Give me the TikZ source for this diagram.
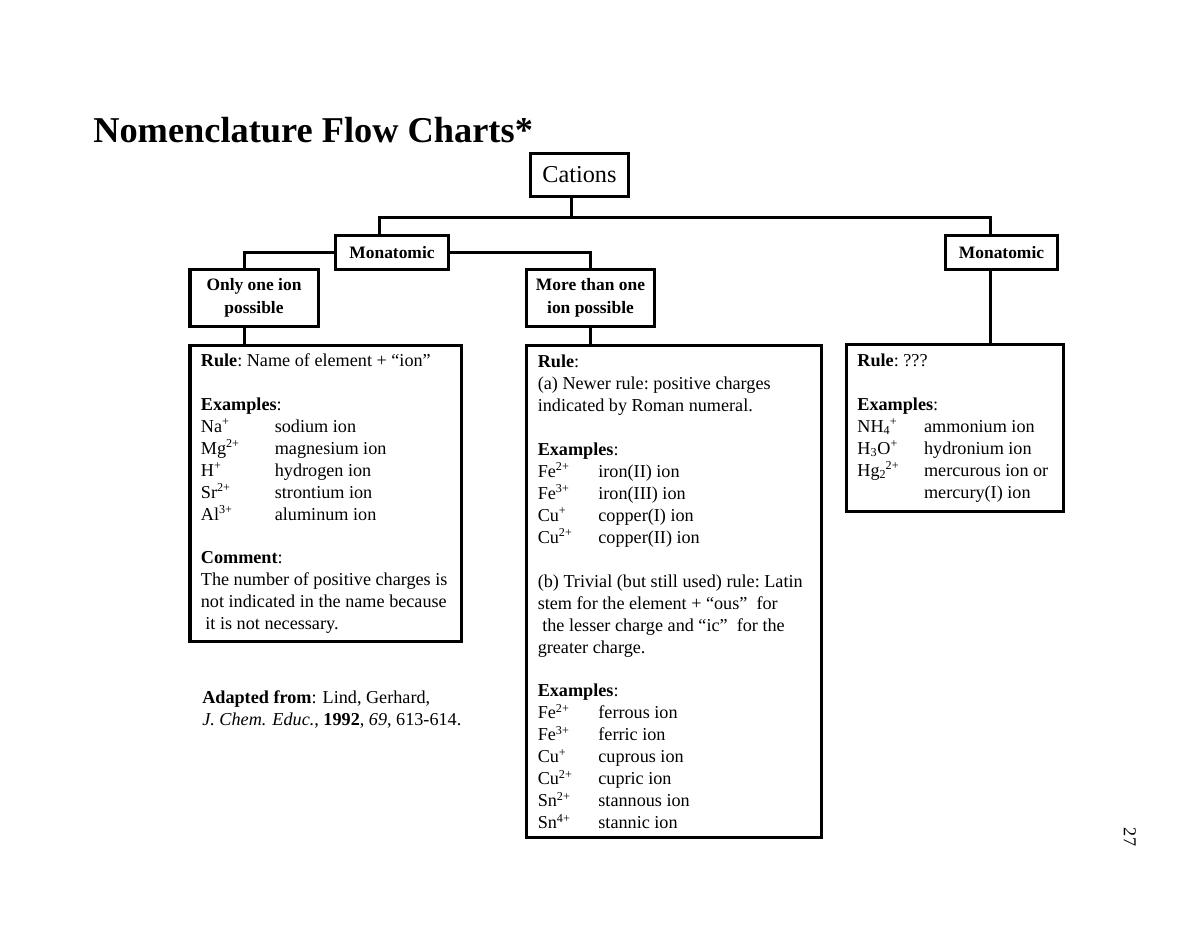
\documentclass[tikz,border=0pt]{standalone}
\usepackage{fontspec}
\setmainfont{Liberation Serif}
\usetikzlibrary{positioning}
\newcommand{\ionrow}[3]{\makebox[#1][l]{#2}#3}

\begin{document}
\begin{tikzpicture}[
    x=0.66pt, y=-0.66pt,
    node distance=10.6pt,
    tagbox/.style={rectangle, draw, line width=2pt, align=center, inner sep=0pt, minimum height=22pt, font=\fontsize{11.5}{15}\selectfont\bfseries},
    rulebox/.style={rectangle, draw, line width=2pt, align=left, inner xsep=7.2pt, inner ysep=4pt, font=\fontsize{12}{14.5}\selectfont,
        execute at begin node={\frenchspacing\hyphenpenalty=10000\spaceskip=0.25em plus 0.1em minus 0.12em}},
    link/.style={draw, line width=2pt}
]
\useasboundingbox (0,0) rectangle (1200,927);

% Title
\node[anchor=base west, inner sep=0pt, font=\fontsize{24}{28}\selectfont\bfseries] (title) at (93,142) {Nomenclature Flow Charts*};

% Tree
\node[rectangle, draw, line width=2pt, minimum width=65pt, minimum height=29pt, inner sep=0pt, font=\fontsize{16}{19}\selectfont] (cat) at (579.5,175) {Cations};
\node[tagbox, minimum width=74pt] (monoL) at (392,252.5) {Monatomic};
\node[tagbox, minimum width=74.5pt] (monoR) at (1001.5,252.5) {Monatomic};
\node[tagbox, minimum width=84.5pt, minimum height=38pt] (only) at (254,298) {Only one ion\\possible};
\node[tagbox, minimum width=84pt, minimum height=38pt] (more) at (590.5,298) {More than one\\ion possible};

% Rule boxes
\node[rulebox, text width=165pt, minimum height=195pt, below right=10.6pt and 0pt of only.south west] (ruleL) {%
\textbf{Rule}: Name of element + “ion”\\[14.5pt]
\textbf{Examples}:\\
\ionrow{48.8pt}{Na\textsuperscript{+}}{sodium ion}\\
\ionrow{48.8pt}{Mg\textsuperscript{2+}}{magnesium ion}\\
\ionrow{48.8pt}{H\textsuperscript{+}}{hydrogen ion}\\
\ionrow{48.8pt}{Sr\textsuperscript{2+}}{strontium ion}\\
\ionrow{48.8pt}{Al\textsuperscript{3+}}{aluminum ion}\\[14.5pt]
\textbf{Comment}:\\
The number of positive charges is\\
not indicated in the name because\\
\hspace*{3pt}it is not necessary.};

\node[rulebox, text width=180pt, minimum height=324.7pt, below right=10.6pt and 0pt of more.south west] (ruleM) {%
\textbf{Rule}:\\
(a) Newer rule: positive charges\\
indicated by Roman numeral.\\[14.5pt]
\textbf{Examples}:\\
\ionrow{40pt}{Fe\textsuperscript{2+}}{iron(II) ion}\\
\ionrow{40pt}{Fe\textsuperscript{3+}}{iron(III) ion}\\
\ionrow{40pt}{Cu\textsuperscript{+}}{copper(I) ion}\\
\ionrow{40pt}{Cu\textsuperscript{2+}}{copper(II) ion}\\[14.5pt]
(b) Trivial (but still used) rule: Latin\\
stem for the element + “ous”\ \ for\\
\hspace*{3pt}the lesser charge and “ic”\ \ for the\\
greater charge.\\[14.5pt]
\textbf{Examples}:\\
\ionrow{40pt}{Fe\textsuperscript{2+}}{ferrous ion}\\
\ionrow{40pt}{Fe\textsuperscript{3+}}{ferric ion}\\
\ionrow{40pt}{Cu\textsuperscript{+}}{cuprous ion}\\
\ionrow{40pt}{Cu\textsuperscript{2+}}{cupric ion}\\
\ionrow{40pt}{Sn\textsuperscript{2+}}{stannous ion}\\
\ionrow{40pt}{Sn\textsuperscript{4+}}{stannic ion}};

\node[rulebox, text width=129pt, minimum height=110pt, anchor=north west] (ruleR) at (845,343) {%
\textbf{Rule}: ???\\[14.5pt]
\textbf{Examples}:\\
\ionrow{44pt}{NH\textsubscript{4}\kern-0.5pt\textsuperscript{+}}{ammonium ion}\\
\ionrow{44pt}{H\textsubscript{3}O\textsuperscript{+}}{hydronium ion}\\
\ionrow{44pt}{Hg\textsubscript{2}\kern-0.5pt\textsuperscript{2+}}{mercurous ion or}\\
\ionrow{44pt}{}{mercury(I) ion}};

% Source
\node[anchor=north west, inner sep=0pt, align=left, font=\fontsize{12}{14.5}\selectfont] (src) at (202,690) {%
\textbf{Adapted from}: Lind, Gerhard,\\
\textit{J. Chem. Educ.}, \textbf{1992}, \textit{69}, 613-614.};

% Page number
\node[rotate=-90, font=\fontsize{12}{14.5}\selectfont] (page) at (1130,837) {27};

% Connectors
\draw[link] ([xshift=-5pt]cat.south) -- ++(0,19) coordinate (bus);
\draw[link] ([xshift=-8pt]monoL.north) |- (bus) -| ([xshift=-7pt]monoR.north);
\draw[link] (monoL.west) -| ([xshift=-6pt]only.north);
\draw[link] (monoL.east) -| (more.north);
\path ([xshift=-6pt]only.south) coordinate (onlyDrop);
\path ([xshift=-7pt]monoR.south) coordinate (monoDrop);
\draw[link] (onlyDrop) -- (onlyDrop |- ruleL.north);
\draw[link] (more.south) -- (more.south |- ruleM.north);
\draw[link] (monoDrop) -- (monoDrop |- ruleR.north);

\end{tikzpicture}
\end{document}
